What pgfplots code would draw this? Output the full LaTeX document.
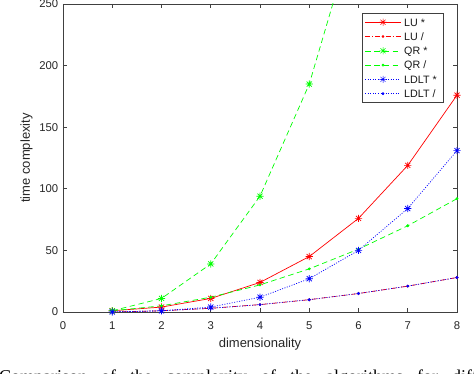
\documentclass[border=0pt]{standalone}
\usepackage{fontspec}
\setmainfont{Liberation Sans}
\newfontfamily\capfont{Liberation Serif}
\usepackage{pgfplots}
\pgfplotsset{compat=1.18}
\pgfdeclareplotmark{mstar}{%
 \pgfpathmoveto{\pgfqpoint{-\pgfplotmarksize}{0pt}}\pgfpathlineto{\pgfqpoint{\pgfplotmarksize}{0pt}}%
 \pgfpathmoveto{\pgfqpoint{0pt}{-\pgfplotmarksize}}\pgfpathlineto{\pgfqpoint{0pt}{\pgfplotmarksize}}%
 \pgfpathmoveto{\pgfqpoint{-.7071\pgfplotmarksize}{-.7071\pgfplotmarksize}}\pgfpathlineto{\pgfqpoint{.7071\pgfplotmarksize}{.7071\pgfplotmarksize}}%
 \pgfpathmoveto{\pgfqpoint{-.7071\pgfplotmarksize}{.7071\pgfplotmarksize}}\pgfpathlineto{\pgfqpoint{.7071\pgfplotmarksize}{-.7071\pgfplotmarksize}}%
 \pgfusepathqstroke}
\definecolor{mred}{rgb}{1,0,0}
\definecolor{mgreen}{rgb}{0,1,0}
\definecolor{mblue}{rgb}{0,0,1}
\definecolor{axgray}{rgb}{0.25,0.25,0.25}
\begin{document}
\begin{tikzpicture}
\useasboundingbox (-63pt,-62pt) rectangle (411pt,312pt);
\begin{axis}[
  at={(0pt,0pt)}, anchor=south west,
  scale only axis, width=394pt, height=308pt,
  xmin=0, xmax=8, ymin=0, ymax=250,
  xtick={0,1,...,8}, ytick={0,50,...,250},
  tick align=inside, tick pos=both, major tick length=4pt,
  axis line style={axgray, line width=0.6pt},
  every tick/.style={axgray, line width=0.6pt},
  /pgf/number format/assume math mode=true,
  ticklabel style={font=\fontsize{11.3}{13}\selectfont, text=black!85},
  xticklabel style={yshift=-5.9pt},
  yticklabel style={xshift=-1.2pt},
  xlabel={dimensionality}, ylabel={time complexity},
  label style={font=\fontsize{13}{15}\selectfont, text=black!85, inner sep=0pt},
  xlabel style={at={(rel axis cs:0.5,-0.0821)}, anchor=north},
  ylabel style={at={(rel axis cs:-0.0761,0.5)}, anchor=south},
  legend image code/.code={\draw[mark repeat=2,mark phase=2] plot coordinates {(0pt,0pt) (17.5pt,0pt) (35pt,0pt)};},
  legend cell align=left,
  legend style={at={(rel axis cs:0.9645,0.9708)}, anchor=north east,
    draw=axgray, line width=0.5pt, fill=white,
    font=\fontsize{10.7}{12}\selectfont, text=black!90,
    inner xsep=2.5pt, inner ysep=1.8pt, row sep=0pt,
    nodes={text height=7.7pt, text depth=0pt, inner ysep=3.3pt, inner xsep=3.5pt}},
  line width=0.7pt,
]
\addplot[mred, solid, mark=mstar, mark size=3.6pt, mark options={solid}] coordinates {(1,1)(2,4)(3,11)(4,24)(5,45)(6,76)(7,119)(8,176)};
\addlegendentry{LU *}
\addplot[mred, dash pattern=on 5pt off 2pt on 1pt off 2pt, mark=*, mark size=1.1pt, mark options={solid, fill=mred}] coordinates {(1,0)(2,1)(3,3)(4,6)(5,10)(6,15)(7,21)(8,28)};
\addlegendentry{LU /}
\addplot[mgreen, dash pattern=on 5.5pt off 3.5pt, mark=mstar, mark size=3.6pt, mark options={solid}] coordinates {(1,1)(2,11)(3,39)(4,94)(5,185)(6,321)(7,511)(8,764)};
\addlegendentry{QR *}
\addplot[mgreen, dash pattern=on 5.5pt off 3.5pt, mark=*, mark size=1.1pt, mark options={solid, fill=mgreen}] coordinates {(1,1)(2,5)(3,12)(4,22)(5,35)(6,51)(7,70)(8,92)};
\addlegendentry{QR /}
\addplot[mblue, dash pattern=on 1pt off 1.5pt, mark=mstar, mark size=3.6pt, mark options={solid}] coordinates {(1,0)(2,1)(3,4)(4,12)(5,27)(6,50)(7,84)(8,131)};
\addlegendentry{LDLT *}
\addplot[mblue, dash pattern=on 1pt off 1.5pt, mark=*, mark size=1.1pt, mark options={solid, fill=mblue}] coordinates {(1,0)(2,1)(3,3)(4,6)(5,10)(6,15)(7,21)(8,28)};
\addlegendentry{LDLT /}
\end{axis}
\node[anchor=base west, inner sep=0pt, font=\capfont\fontsize{18}{20}\selectfont, text=black] at (-64pt,-71pt)
  {Comparison\hspace{14pt}of\hspace{14pt}the\hspace{14pt}complexity\hspace{14pt}of\hspace{14pt}the\hspace{14pt}algorithms\hspace{14pt}for\hspace{14pt}different};
\end{tikzpicture}
\end{document}
